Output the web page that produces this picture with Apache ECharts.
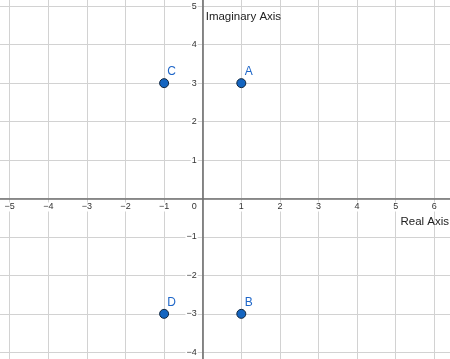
<!DOCTYPE html>
<html>
<head>
<meta charset="utf-8">
<style>
  html, body { margin: 0; padding: 0; background: #fff; }
  #chart { width: 450px; height: 359px; }
</style>
<script src="https://cdn.jsdelivr.net/npm/echarts@6/dist/echarts.min.js"></script>
</head>
<body>
<div id="chart"></div>
<script>
// Points in the complex plane: name, real part, imaginary part
const pointNames = ['A', 'B', 'C', 'D'];
const realParts = [1, 1, -1, -1];
const imagParts = [3, -3, 3, -3];

// Axis ranges (whole units; the grid is larger than the canvas so the view shows about -5.25..6.4 by -4.2..5.15)
const xRange = [-6, 7];
const yRange = [-5, 6];
const axisTitles = { x: 'Real Axis', y: 'Imaginary Axis' };

const FONT = '"Liberation Sans", Arial, sans-serif';
const unitX = 38.6, unitY = 38.45;   // pixels per unit
const originX = 202.7, originY = 198.5;

const gridLeft = originX + xRange[0] * unitX;
const gridWidth = (xRange[1] - xRange[0]) * unitX;
const gridTop = originY - yRange[1] * unitY;
const gridHeight = (yRange[1] - yRange[0]) * unitY;

const fmt = v => (v < 0 ? '\u2212' + (-v) : String(v));

const points = pointNames.map((n, i) => ({ name: n, value: [realParts[i], imagParts[i]] }));

const chart = echarts.init(document.getElementById('chart'), null, { renderer: 'canvas' });

chart.setOption({
  animation: false,
  backgroundColor: '#ffffff',
  grid: {
    left: gridLeft,
    width: gridWidth,
    top: gridTop,
    height: gridHeight,
    containLabel: false,
    outerBoundsMode: 'none'
  },
  xAxis: {
    type: 'value',
    min: xRange[0],
    max: xRange[1],
    interval: 1,
    position: 'bottom',
    // move the axis from the grid's bottom edge up to y = 0
    offset: -(gridTop + gridHeight - originY),
    name: axisTitles.x,
    nameLocation: 'end',
    nameGap: -23.9,
    nameTextStyle: {
      fontFamily: FONT, fontSize: 11.5, color: '#222',
      align: 'right', verticalAlign: 'top', padding: [17, 0, 0, 0]
    },
    axisLine: { onZero: false, lineStyle: { color: '#6e6e6e', width: 1.6 } },
    axisTick: { show: false },
    splitLine: { show: true, lineStyle: { color: '#d2d2d2', width: 1 } },
    axisLabel: {
      margin: 4,
      fontFamily: FONT,
      fontSize: 9,
      color: '#333',
      formatter: v => (v === 0 ? '{n|0}{gap|}' : '{n|' + fmt(v) + '}'),
      rich: {
        n: { fontFamily: FONT, fontSize: 9, color: '#333', backgroundColor: '#fff', padding: [0, 1] },
        gap: { width: 17 }
      }
    }
  },
  yAxis: {
    type: 'value',
    min: yRange[0],
    max: yRange[1],
    interval: 1,
    position: 'left',
    // move the axis from the grid's left edge across to x = 0
    offset: -(originX - gridLeft),
    name: axisTitles.y,
    nameLocation: 'end',
    nameGap: -49.5,
    nameTextStyle: {
      fontFamily: FONT, fontSize: 11.5, color: '#222',
      align: 'left', verticalAlign: 'middle', padding: [0, 0, 0, 3]
    },
    axisLine: { onZero: false, lineStyle: { color: '#6e6e6e', width: 1.6 } },
    axisTick: { show: false },
    splitLine: { show: true, lineStyle: { color: '#d2d2d2', width: 1 } },
    axisLabel: {
      margin: 5,
      fontFamily: FONT,
      fontSize: 9,
      color: '#333',
      backgroundColor: '#fff',
      padding: [0, 1],
      formatter: v => (v === 0 ? '' : fmt(v))
    }
  },
  series: [{
    type: 'scatter',
    data: points,
    symbol: 'circle',
    symbolSize: 9,
    itemStyle: { color: '#1565c0', borderColor: '#10263f', borderWidth: 1, opacity: 1 },
    label: {
      show: true,
      position: 'inside',
      offset: [7.5, -11],
      formatter: p => p.name,
      fontFamily: FONT,
      fontSize: 12,
      color: '#1e66c8'
    },
    z: 5
  }]
});
</script>
</body>
</html>
